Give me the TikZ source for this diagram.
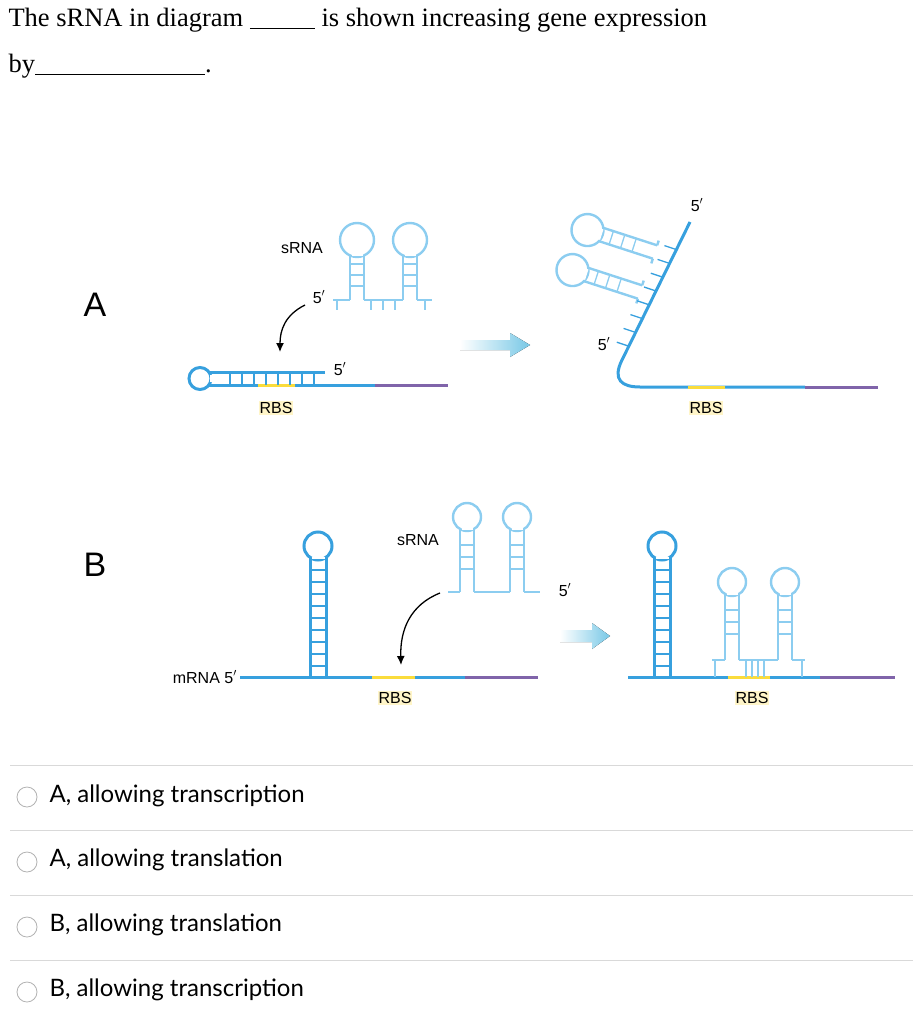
\documentclass[tikz,border=0pt]{standalone}
\usepackage{fontspec}
\setmainfont{Liberation Serif}
\newfontfamily\sans{Liberation Sans}
\newfontfamily\lato{Lato}
\usetikzlibrary{arrows.meta,calc}
\definecolor{mb}{RGB}{55,160,222}
\definecolor{lb}{RGB}{140,205,240}
\definecolor{pu}{RGB}{128,100,170}
\definecolor{ye}{RGB}{250,220,60}
\definecolor{rbsbg}{RGB}{255,245,200}
\definecolor{ar}{RGB}{120,200,230}
\newcommand\hp[6]{%
 \draw (#1-#5,#2) -- (#1-#5,#3) (#1+#5,#2)--(#1+#5,#3);
 \draw[fill=white] (#1,#3-#4+3) circle (#4);
 \draw[white,line width=2pt] (#1-#5+1.5,#3+1) -- (#1+#5-1.5,#3+1);
 \foreach \yy in {#6} \draw[line width=1.3pt] (#1-#5,\yy) -- (#1+#5,\yy);}
\tikzset{
 mrna/.style={mb,line width=3pt},
 srna/.style={lb,line width=2.4pt},
 lbl/.style={font=\sans\fontsize{16}{18}\selectfont,inner sep=1pt},
 rbs/.style={lbl,fill=rbsbg},
 big/.style={font=\sans\fontsize{34}{36}\selectfont},
 opt/.style={font=\lato\fontsize{24}{28}\selectfont,anchor=west},
 q/.style={font=\fontsize{26.5}{30}\selectfont,anchor=west},
 blk/.style={draw=none,left color=white,right color=ar},
 rule/.style={gray!30,line width=0.8pt},
 rad/.style={gray!60,line width=0.8pt,fill=white},
 cur/.style={black,line width=1.3pt,-{Latex[length=9pt,width=8pt]}}
}
\begin{document}
\begin{tikzpicture}[x=1pt,y=-1pt]
\useasboundingbox (0,0) rectangle (913,1024);
% question
\node[q] (q1) at (5,20) {The sRNA in diagram \underline{\hspace{65pt}} is shown increasing gene expression};
\node[q] (q2) at (5,66) {by\underline{\hspace{170pt}}.};
\node[big] (A) at (95,305) {A};
\node[big] (B) at (95,565) {B};
% ===== A left =====
\draw[mrna] (212,385) -- (375,385);
\draw[pu,line width=3pt] (375,385) -- (448,385);
\draw[ye,line width=3pt] (258,385) -- (295,385);
\draw[mrna] (212,372) -- (325,372);
\draw[mrna] (200,378.5) circle (11);
\draw[white,line width=4pt] (211.5,375) -- (211.5,382);
\draw[mrna] (209,372) -- (214,372) (209,385) -- (214,385);
\foreach \xx in {230,242,254,266,278,290,302,314} \draw[mb,line width=1.3pt] (\xx,372) -- (\xx,385);
\node[lbl] (p5a) at (340,369) {5$'$};
\node[rbs] (rbsA) at (276,408) {RBS};
\begin{scope}[srna]
\hp{357}{300}{254}{17}{7}{264,275,286}
\hp{410}{300}{254}{17}{7}{264,275,286}
\draw (333,300) -- (350,300) (364,300) -- (403,300) (417,300) -- (432,300);
\foreach \xx in {337,371,383,395,425} \draw[line width=1.3pt] (\xx,300) -- (\xx,310);
\end{scope}
\node[lbl] (sA) at (302,248) {sRNA};
\node[lbl] (s5a) at (319,297) {5$'$};
\draw[cur] (305,305) .. controls (285,315) and (280,330) .. (280,352);
\fill[blk] (460,340) -- (510,340) -- (510,333) -- (530,345) -- (510,357) -- (510,350) -- (460,350) -- cycle;
% ===== A right =====
\begin{scope}[srna]
 \begin{scope}[shift={(655,252)},rotate=72]
  \hp{0}{0}{-58}{16}{7}{-46,-34,-22}
  \draw (-7,0) -- (-12,0) (7,0) -- (12,0);
 \end{scope}
 \begin{scope}[shift={(640,292)},rotate=72]
  \hp{0}{0}{-58}{16}{7}{-46,-34,-22}
  \draw (-7,0) -- (-12,0) (7,0) -- (12,0);
 \end{scope}
 \foreach \t in {0.2,0.3,0.4,0.5,0.6,0.7,0.8,0.9}
  \draw[line width=1.3pt,mb] ($(690,222)!\t!(622,360)$) -- ++(-12,-4);
\end{scope}
\draw[mrna] (690,222) -- (622,360) .. controls (612,380) and (622,387) .. (640,387) -- (805,387);
\draw[ye,line width=3pt] (688,387) -- (725,387);
\draw[pu,line width=3pt] (805,387) -- (878,387);
\node[lbl] (t5) at (697,205) {5$'$};
\node[lbl] (b5) at (604,344) {5$'$};
\node[rbs] (rbsA2) at (706,408) {RBS};
% ===== B left =====
\begin{scope}[mrna]
\hp{318}{677}{557}{14}{8}{570,582,594,606,618,630,642,654,666}
\draw (240,677) -- (465,677);
\end{scope}
\draw[ye,line width=3pt] (372,677) -- (415,677);
\draw[pu,line width=3pt] (465,677) -- (538,677);
\node[lbl,anchor=east] (mr) at (238,677) {mRNA 5$'$};
\node[rbs] (rbsB) at (395,698) {RBS};
\begin{scope}[srna]
\hp{467}{592}{528}{14}{7}{545,557,569}
\hp{517}{592}{528}{14}{7}{545,557,569}
\draw (448,592) -- (460,592) (474,592) -- (510,592) (524,592) -- (540,592);
\end{scope}
\node[lbl] (sB) at (418,540) {sRNA};
\node[lbl] (s5b) at (565,590) {5$'$};
\draw[cur] (440,593) .. controls (410,605) and (400,630) .. (401,665);
\fill[blk] (560,630) -- (592,630) -- (592,623) -- (610,636) -- (592,649) -- (592,642) -- (560,642) -- cycle;
% ===== B right =====
\begin{scope}[mrna]
\hp{662}{677}{557}{14}{8}{570,582,594,606,618,630,642,654,666}
\draw (628,677) -- (820,677);
\end{scope}
\draw[ye,line width=3pt] (728,677) -- (770,677);
\draw[pu,line width=3pt] (820,677) -- (895,677);
\node[rbs] (rbsB2) at (752,698) {RBS};
\begin{scope}[srna]
\hp{732}{660}{593}{14}{7}{610,622,634}
\hp{785}{660}{593}{14}{7}{610,622,634}
\draw (712,660) -- (725,660) (739,660) -- (778,660) (792,660) -- (805,660);
\foreach \xx in {715,746,752,758,764,802} \draw[line width=1.3pt] (\xx,660) -- (\xx,677);
\end{scope}
% ===== options =====
\foreach \yy in {765,830,895,960} \draw[rule] (10,\yy) -- (913,\yy);
\draw[rad] (27,797) circle (10);
\draw[rad] (27,862) circle (10);
\draw[rad] (27,927) circle (10);
\draw[rad] (27,992) circle (10);
\node[opt] (o1) at (46,796) {A, allowing transcription};
\node[opt] (o2) at (46,860) {A, allowing translation};
\node[opt] (o3) at (46,925) {B, allowing translation};
\node[opt] (o4) at (46,990) {B, allowing transcription};
\end{tikzpicture}
\end{document}
